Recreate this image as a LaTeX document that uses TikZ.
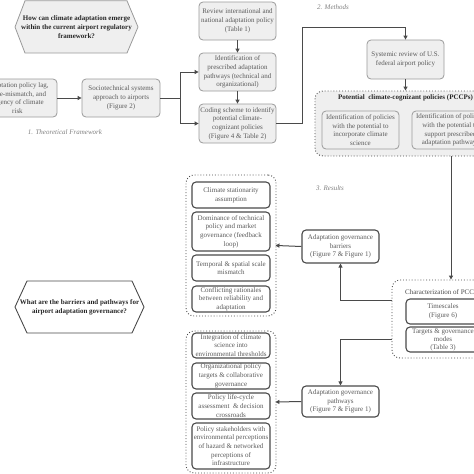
\documentclass[tikz,border=0pt]{standalone}
\usepackage{fontspec}
\setmainfont{Liberation Serif}
\usetikzlibrary{arrows.meta}
\definecolor{tx}{HTML}{5A5A5A}
\definecolor{dk}{HTML}{4A4A4A}
\definecolor{gf}{HTML}{EFEFEF}
\definecolor{gb}{HTML}{9A9A9A}
\begin{document}
\begin{tikzpicture}[x=1pt,y=-1pt,
 every node/.style={font=\fontsize{7}{8.7}\selectfont, text=tx, align=center, inner sep=0pt},
 gbox/.style={draw=gb, fill=gf, rounded corners=4pt, line width=0.8pt},
 wbox/.style={draw=dk, fill=white, rounded corners=4pt, line width=1.1pt},
 cont/.style={draw=dk, dotted, rounded corners=8pt, line width=0.9pt},
 conn/.style={draw=dk, line width=1pt},
 arr/.style={conn, -{Triangle[length=4pt,width=4pt]}},
 lab/.style={font=\fontsize{7}{8.7}\selectfont\itshape, text=gray},
 qtext/.style={font=\fontsize{7}{8.7}\selectfont\bfseries, text=black!85},
 sz/.style 2 args={minimum width=#1pt, minimum height=#2pt},
]
\useasboundingbox (0,0) rectangle (474,474);
\clip (0,0) rectangle (474,474);

% questions
\draw[fill=gf, draw=gb, line width=0.8pt] (15,27)--(25,0.8)--(127,0.8)--(138,27)--(127,53)--(25,53)--cycle;
\node[qtext] (q1) at (76.5,27) {How can climate adaptation emerge\\within the current airport regulatory\\framework?};
\draw[fill=white, draw=dk, line width=0.9pt] (15,307)--(27,281)--(132,281)--(144,307)--(132,333)--(27,333)--cycle;
\node[qtext] (q2) at (79.5,307) {What are the barriers and pathways for\\airport adaptation governance?};

% theoretical framework
\node[gbox, sz={79}{38}] (b0) at (17.5,98) {Adaptation policy lag,\\scale-mismatch, and\\urgency of climate\\risk};
\node[gbox, sz={78}{38}] (socio) at (121,98) {Sociotechnical systems\\approach to airports\\(Figure 2)};
\node[lab] (l1) at (65,132) {1. Theoretical Framework};

% methods
\node[gbox, sz={77}{38}] (review) at (237.5,21) {Review international and\\national adaptation policy\\(Table 1)};
\node[gbox, sz={77}{38}] (ident) at (237.5,72) {Identification of\\prescribed adaptation\\pathways (technical and\\organizational)};
\node[gbox, sz={77}{39}] (coding) at (237.5,123.5) {Coding scheme to identify\\potential climate-\\cognizant policies\\(Figure 4 \& Table 2)};
\node[lab] (l2) at (333,7) {2. Methods};
\node[gbox, sz={77}{39}] (sys) at (405.5,59.5) {Systemic review of U.S.\\federal airport policy};
\node[cont, fill=gf, sz={181}{65}] (pccp) at (405.5,123.5) {};
\node[qtext] (pccpt) at (405.5,98) {Potential\ \ climate-cognizant policies (PCCPs)};
\node[gbox, sz={77}{38}] (pa) at (360.5,130) {Identification of policies\\with the potential to\\incorporate climate\\science};
\node[gbox, sz={77}{38}] (pb) at (450.5,130) {Identification of policies\\with the potential to\\support prescribed\\adaptation pathways};

% results
\node[lab] (l3) at (330,188) {3. Results};
\node[cont, fill=white, sz={104}{78}] (charc) at (444,319) {};
\node[anchor=west, text=dk] (chart) at (405,292) {Characterization of PCCPs};
\node[wbox, sz={74}{25}] (ts) at (443,311.5) {Timescales\\(Figure 6)};
\node[wbox, sz={74}{25}, font=\fontsize{7}{8}\selectfont] (tg) at (443,339.5) {Targets \& governance\\modes\\(Table 3)};

\node[wbox, sz={77}{33}] (barr) at (340.5,246.5) {Adaptation governance\\barriers\\(Figure 7 \& Figure 1)};
\node[wbox, sz={77}{31}] (path) at (340.5,401.5) {Adaptation governance\\pathways\\(Figure 7 \& Figure 1)};

\node[cont, fill=white, sz={90}{141}] (barc) at (231,245.5) {};
\node[wbox, sz={78}{26}] (bar1) at (231,195) {Climate stationarity\\assumption};
\node[wbox, sz={78}{39}] (bar2) at (231,231.5) {Dominance of technical\\policy and market\\governance (feedback\\loop)};
\node[wbox, sz={78}{26}] (bar3) at (231,268) {Temporal \& spatial scale\\mismatch};
\node[wbox, sz={78}{26}] (bar4) at (231,299) {Conflicting rationales\\between reliability and\\adaptation};

\node[cont, fill=white, sz={90}{142}] (pathc) at (231,402) {};
\node[wbox, sz={78}{25}] (pw1) at (231,345.5) {Integration of climate\\science into\\environmental thresholds};
\node[wbox, sz={78}{26}] (pw2) at (231,376) {Organizational policy\\targets \& collaborative\\governance};
\node[wbox, sz={78}{26}] (pw3) at (231,406) {Policy life-cycle\\assessment\ \ \& decision\\crossroads};
\node[wbox, sz={78}{46}] (pw4) at (231,446) {Policy stakeholders with\\environmental perceptions\\of hazard \& networked\\perceptions of\\infrastructure};

% connectors
\coordinate (split) at (180,98);
\coordinate (m1) at (302,27);
\coordinate (d1) at (451,156);
\coordinate (e1) at (392,300);
\coordinate (e2) at (392,339);
\draw[arr] (b0.east) -- (socio.west);
\draw[conn] (socio.east) -- (split);
\draw[arr] (split) |- (ident.west);
\draw[arr] (split) |- (coding.west);
\draw[arr] (review.south) -- (ident.north);
\draw[arr] (ident.south) -- (coding.north);
\draw[arr] (coding.east) -| (m1) -| (sys.north);
\draw[arr] (sys.south) -- (pccp.north);
\draw[arr] (d1) -- (d1 |- charc.north);
\draw[arr] (e1) -| (barr.south);
\draw[arr] (e2) -| (path.north);
\draw[arr, shorten >=-1pt] (barr.west) -- (barc.east);
\draw[arr, shorten >=-1pt] (path.west) -- (pathc.east);
\end{tikzpicture}
\end{document}
